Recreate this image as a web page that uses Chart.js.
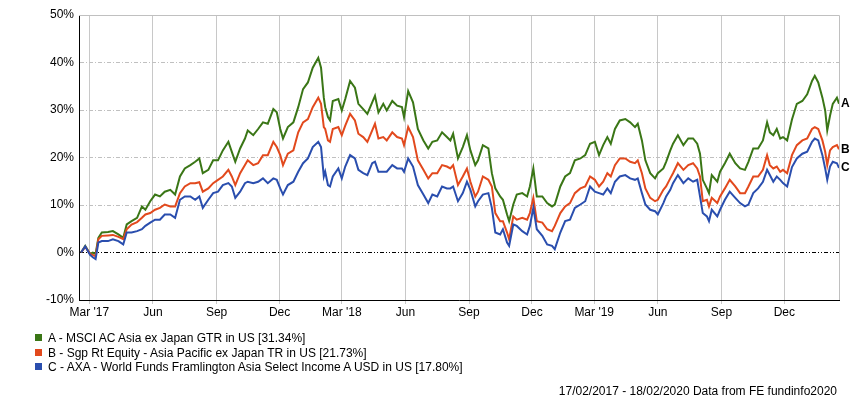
<!DOCTYPE html>
<html>
<head>
<meta charset="utf-8">
<script src="https://cdn.jsdelivr.net/npm/chart.js@4/dist/chart.umd.min.js"></script>
<style>
  html, body { margin: 0; padding: 0; background: #fff; }
  #wrap { position: relative; width: 850px; height: 400px; font-family: "Liberation Sans", Arial, sans-serif; }
  #c { position: absolute; left: 0; top: 0; }
  #legend { position: absolute; left: 35px; top: 331px; font-size: 12px; color: #000; }
  .row { height: 14.7px; line-height: 14.7px; white-space: nowrap; position: relative; padding-left: 13px; }
  .sw { position: absolute; left: 0; top: 3px; width: 7px; height: 7px; }
  #footer { position: absolute; right: 13px; top: 384px; font-size: 12px; color: #000; white-space: nowrap; }
</style>
</head>
<body>
<div id="wrap">
  <canvas id="c" width="850" height="400"></canvas>
  <div id="legend"></div>
  <div id="footer"></div>
</div>
<script>
// Days since 17/02/2017
const days = [0,6,13,17,21,25,30,39,46,54,61,66,73,81,88,93,100,107,114,121,129,136,143,150,158,165,171,176,184,191,198,205,213,218,223,230,237,241,249,256,263,270,278,283,288,292,299,307,314,321,328,335,343,347,351,353,357,360,364,372,377,382,389,396,401,408,414,421,425,430,437,442,450,457,464,467,473,480,487,495,502,508,515,522,529,534,538,545,552,558,563,570,574,581,589,594,599,606,610,616,619,625,630,638,645,649,654,659,667,674,681,685,693,700,707,714,722,729,736,743,749,755,761,766,772,779,787,794,801,805,811,816,823,830,834,842,846,852,856,863,871,878,885,891,895,899,905,908,912,920,924,931,938,946,953,960,965,972,979,986,992,996,1001,1006,1011,1015,1021,1028,1035,1043,1050,1057,1061,1066,1072,1076,1079,1083,1087,1093,1096];
const seriesA = [0,1.4,-0.3,0.0,-0.3,3.1,4.2,4.3,4.5,3.8,3.1,5.9,6.6,7.3,9.7,9.0,10.8,12.2,11.8,12.8,13.2,12.2,16.0,17.7,18.4,19.1,19.8,16.7,17.4,19.4,19.4,21.5,23.3,21.2,19.1,21.9,24.0,25.7,24.7,26.0,27.4,27.1,30.2,29.5,26.0,24.0,26.4,27.4,30.6,34.4,35.8,38.9,41.0,38.9,32.6,30.6,28.5,27.8,31.9,32.3,29.9,32.3,36.1,34.7,31.3,30.2,29.2,31.6,33.0,29.5,31.3,29.9,31.9,30.9,30.6,28.5,34.0,31.6,26.0,23.6,21.9,23.3,23.6,25.3,24.3,23.6,25.0,19.8,22.2,24.7,21.5,18.4,19.4,22.6,21.9,16.7,13.5,11.8,11.1,8.0,6.6,10.1,12.2,12.5,11.8,13.9,17.7,11.8,11.8,10.4,9.7,10.1,13.9,16.0,16.7,19.4,19.8,20.5,22.9,23.3,20.5,22.6,24.3,22.9,26.0,27.8,28.1,27.4,26.4,27.1,23.6,19.4,16.7,15.6,16.7,17.7,19.1,21.5,22.9,24.7,22.6,24.0,24.0,22.9,20.8,15.3,13.5,12.5,16.3,14.9,17.0,18.8,20.8,18.8,17.7,17.4,19.1,21.9,21.9,23.6,27.4,25.3,24.7,26.0,24.0,24.3,23.6,28.0,31.3,31.9,33.3,36.1,37.2,35.8,32.6,29.9,25.7,28.8,31.3,32.6,31.34];
const seriesB = [0,1.2,-0.3,-0.5,-0.8,2.8,3.5,3.6,3.7,3.3,2.8,4.9,5.9,6.4,7.3,8.0,8.3,9.0,9.4,10.1,9.7,9.7,12.5,13.9,14.6,14.6,14.8,12.8,13.5,14.6,15.3,16.0,17.4,16.0,14.2,16.7,18.4,19.4,18.4,18.8,20.5,20.5,23.3,22.2,20.5,18.4,20.8,21.5,25.3,27.4,28.1,30.6,32.6,31.3,26.4,26.0,23.6,23.3,26.0,26.4,24.7,26.7,29.2,27.8,25.0,24.3,23.3,25.7,27.1,24.0,24.3,23.6,25.3,24.3,24.0,22.6,26.4,24.3,19.4,17.4,15.6,16.7,16.7,18.4,18.1,17.7,18.4,14.2,16.0,17.7,14.9,11.8,12.8,16.0,15.3,13.9,8.3,6.6,6.6,4.2,2.8,7.6,6.9,7.3,6.9,8.3,11.5,6.6,6.3,4.9,4.5,5.6,8.3,9.7,10.4,12.5,13.5,13.9,16.0,15.3,13.9,14.9,16.7,16.0,18.4,19.8,19.8,19.1,18.8,19.4,16.7,13.5,11.5,10.8,11.1,13.2,13.9,15.6,16.7,18.8,17.4,18.4,18.8,17.7,16.0,10.8,11.1,9.7,11.5,10.4,11.8,13.5,15.3,13.9,12.5,12.5,13.9,16.0,16.0,17.4,20.5,18.4,17.7,18.1,17.0,17.4,16.7,20.5,22.6,23.6,24.0,26.0,26.4,26.0,23.6,21.2,18.4,21.5,22.2,22.6,21.73];
const seriesC = [0,1.3,-0.5,-1.0,-1.4,2.1,2.4,2.4,2.8,2.4,1.7,4.2,4.2,4.5,4.9,5.6,6.3,6.9,6.9,8.0,8.0,7.3,11.1,11.8,11.8,11.1,11.8,9.4,11.1,12.5,12.8,14.2,14.6,13.9,11.5,12.8,14.6,14.9,14.6,14.9,15.6,14.6,15.6,15.3,13.5,12.2,14.2,14.9,17.0,18.8,19.8,22.2,23.3,22.2,16.0,17.0,14.2,13.9,16.0,17.7,15.6,18.1,20.5,19.8,17.4,16.7,16.3,18.8,19.1,17.0,17.0,17.0,18.4,17.7,17.7,17.0,19.8,18.1,14.2,12.2,10.4,12.2,11.8,13.9,13.5,13.5,13.9,10.8,12.5,14.9,13.2,9.7,10.8,12.2,12.5,9.4,4.2,3.8,4.9,2.1,1.4,5.9,5.6,4.5,3.8,5.6,9.4,4.9,3.5,1.7,1.4,0.7,4.2,6.6,6.9,9.4,10.1,10.8,13.9,12.8,12.5,12.2,13.5,12.5,14.9,16.0,16.3,15.6,15.3,15.6,12.5,10.1,9.0,8.7,8.0,10.4,11.8,13.2,14.6,16.3,14.6,15.6,14.9,15.3,11.8,8.3,7.6,6.6,9.0,7.6,9.0,11.1,12.8,11.5,10.4,9.7,10.1,12.5,13.5,14.9,17.4,16.3,14.9,16.0,15.3,14.6,13.9,18.0,19.8,20.8,21.2,23.3,24.0,23.6,20.5,17.7,15.3,18.1,19.1,18.8,17.80];

const seriesNames = [
  "A - MSCI AC Asia ex Japan GTR in US [31.34%]",
  "B - Sgp Rt Equity - Asia Pacific ex Japan TR in US [21.73%]",
  "C - AXA - World Funds Framlington Asia Select Income A USD in US [17.80%]"
];
const endLabels = ["A", "B", "C"];
const seriesColors = ["#3a7616", "#e2491d", "#2a4eae"];
const tickDays = [12,104,196,287,377,469,561,652,742,834,926,1017];
const tickLabels = ["Mar '17","Jun","Sep","Dec","Mar '18","Jun","Sep","Dec","Mar '19","Jun","Sep","Dec"];
const yTickValues = [-10,0,10,20,30,40,50];
const footerText = "17/02/2017 - 18/02/2020 Data from FE fundinfo2020";

const FONT = "'Liberation Sans', Arial, sans-serif";
const allSeries = [seriesA, seriesB, seriesC];

const frame = {
  id: 'frame',
  beforeDatasetsDraw(chart) {
    const {ctx, chartArea: a} = chart;
    ctx.save();
    ctx.strokeStyle = '#c0c0c0';
    ctx.lineWidth = 1;
    ctx.beginPath();
    ctx.moveTo(a.left, a.top + 0.5);
    ctx.lineTo(a.right + 0.5, a.top + 0.5);
    ctx.lineTo(a.right + 0.5, a.bottom);
    ctx.stroke();
    ctx.restore();
  },
  afterDatasetsDraw(chart) {
    const {ctx, chartArea: a, scales} = chart;
    ctx.save();
    ctx.fillStyle = '#000';
    ctx.font = "bold 12px " + FONT;
    ctx.textBaseline = 'middle';
    ctx.textAlign = 'left';
    allSeries.forEach((s, i) => {
      const y = scales.y.getPixelForValue(s[s.length - 1]);
      ctx.fillText(endLabels[i], a.right + 2, y);
    });
    ctx.restore();
  }
};

new Chart(document.getElementById('c'), {
  type: 'line',
  data: {
    datasets: allSeries.map((s, i) => ({
      label: seriesNames[i],
      data: days.map((d, j) => ({x: d, y: s[j]})),
      borderColor: seriesColors[i],
      backgroundColor: seriesColors[i],
      borderWidth: 2,
      pointRadius: 0,
      tension: 0,
      order: 3 - i
    }))
  },
  options: {
    responsive: false,
    animation: false,
    layout: { padding: { top: 15, right: 11, left: 0, bottom: 0 } },
    plugins: { legend: { display: false }, tooltip: { enabled: false } },
    scales: {
      x: {
        type: 'linear',
        min: -3,
        max: 1096,
        afterBuildTicks(scale) { scale.ticks = tickDays.map(v => ({value: v})); },
        afterFit(scale) { scale.height = 100; },
        ticks: {
          autoSkip: false,
          maxRotation: 0,
          padding: 1,
          color: '#000',
          font: { family: FONT, size: 12 },
          callback(value, index) { return tickLabels[index]; }
        },
        grid: { color: '#c8c8c8', lineWidth: 1, tickLength: 4, drawTicks: true },
        border: { color: '#000', width: 1 }
      },
      y: {
        min: -10,
        max: 50,
        afterBuildTicks(scale) { scale.ticks = yTickValues.map(v => ({value: v})); },
        afterFit(scale) { scale.width = 79; },
        ticks: {
          padding: 5,
          color: '#000',
          font: { family: FONT, size: 12 },
          callback(value) { return value + '%'; }
        },
        grid: {
          drawTicks: false,
          color(ctx) { return ctx.tick && ctx.tick.value === 0 ? '#000' : '#c0c0c0'; },
          lineWidth: 1
        },
        border: {
          color: '#000',
          width: 1,
          dash(ctx) { return ctx.tick && ctx.tick.value === 0 ? [4,2,1,2,1,2] : [4,2,1,2]; }
        }
      }
    }
  },
  plugins: [frame]
});

const legend = document.getElementById('legend');
seriesNames.forEach((n, i) => {
  const row = document.createElement('div');
  row.className = 'row';
  const sw = document.createElement('span');
  sw.className = 'sw';
  sw.style.background = seriesColors[i];
  row.appendChild(sw);
  row.appendChild(document.createTextNode(n));
  legend.appendChild(row);
});
document.getElementById('footer').textContent = footerText;
</script>
</body>
</html>
